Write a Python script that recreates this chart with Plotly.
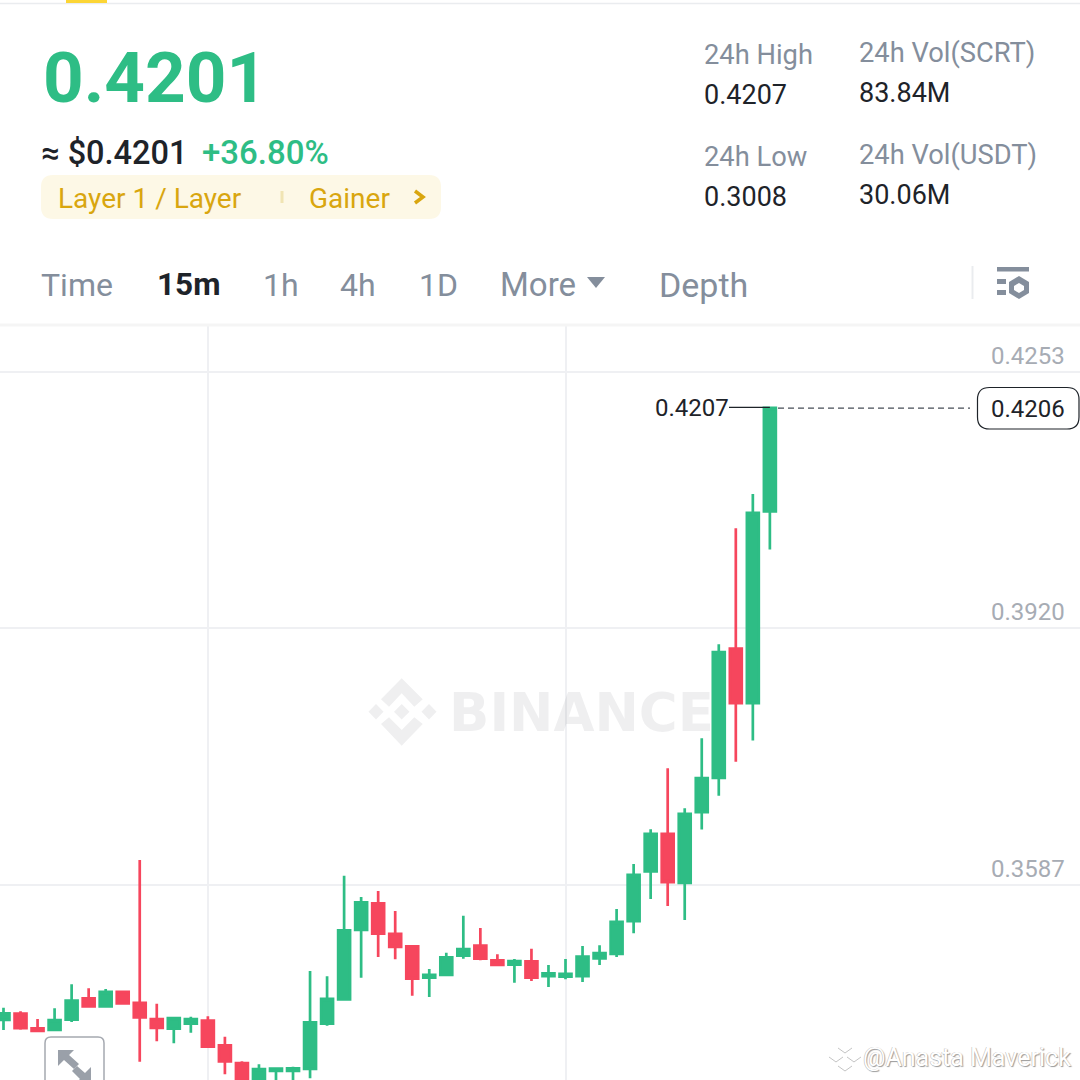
import plotly.graph_objects as go

GREEN = "#2EBD85"
RED = "#F6465D"
DARK = "#1E2329"
GRAY = "#848E9C"
GOLD = "#D9A60F"
GRID = "#EFF0F3"

# candles
candle_index = list(range(46))
open_px = [
    .34117, .34199, .34010, .33988, .34121, .34399, .34295, .34481, .34338, .34130,
    .34004, .34069, .34108, .33789, .33559, .33300, .33455, .33455, .33481, .34069,
    .34386, .35286, .35632, .35234, .35074, .34667, .34702, .34952, .35082, .34892,
    .34835, .34879, .34685, .34680, .34685, .34918, .34974, .35399, .36047, .36533,
    .35897, .36816, .37260, .38939, .38230, .40720,
]
high_px = [
    .34277, .34230, .34130, .34269, .34581, .34529, .34520, .34481, .36195, .34329,
    .34160, .34160, .34165, .33901, .33581, .33542, .33485, .33511, .34754, .34685,
    .35991, .35714, .35792, .35532, .35091, .34780, .34991, .35471, .35312, .34970,
    .34909, .35043, .34831, .34909, .35078, .35087, .35558, .36143, .36593, .37386,
    .36867, .37776, .38995, .40502, .40947, .42070,
]
low_px = [
    .33988, .33991, .33975, .33988, .34091, .34277, .34295, .34321, .33576, .33841,
    .33815, .33953, .33763, .33412, .33274, .33274, .33274, .33274, .33361, .34043,
    .34386, .34667, .34935, .34905, .34433, .34416, .34702, .34913, .34892, .34831,
    .34602, .34624, .34546, .34646, .34611, .34831, .34935, .35243, .35688, .35597,
    .35416, .36589, .37029, .37469, .37747, .40224,
]
close_px = [
    .34204, .34010, .33975, .34117, .34368, .34295, .34481, .34334, .34152, .34014,
    .34143, .34130, .33771, .33581, .33313, .33481, .33485, .33490, .34088, .34390,
    .35282, .35645, .35238, .35065, .34654, .34702, .34931, .35039, .34913, .34831,
    .34883, .34667, .34724, .34715, .34939, .34987, .35390, .36000, .36533, .35908,
    .36793, .37257, .38894, .38230, .40701, .42064,
]
price_ticks = [0.4253, 0.3920, 0.3587]
time_grid = [12, 33]
high_mark = 0.4207
last_price = 0.4206

# header texts: text, left x, centre y, size, colour, weight
header_texts = [
    ("0.4201", 41, 78, 71, GREEN, 700),
    ("≈ $0.4201", 39, 153, 32.5, DARK, 500),
    ("+36.80%", 200, 153, 33, GREEN, 500),
    ("Layer 1 / Layer", 56, 198, 28, GOLD, 400),
    ("Gainer", 307, 198, 28, GOLD, 400),
    ("Time", 39, 285, 32, GRAY, 400),
    ("15m", 155, 285, 31.5, DARK, 700),
    ("1h", 261, 285, 32, GRAY, 400),
    ("4h", 338, 285, 32, GRAY, 400),
    ("1D", 417, 285, 32, GRAY, 400),
    ("More", 498, 285, 33, GRAY, 400),
    ("Depth", 657, 285, 34, GRAY, 400),
    ("24h High", 702, 55, 27.3, GRAY, 400),
    ("0.4207", 702, 95, 27, DARK, 400),
    ("24h Low", 702, 157, 27.3, GRAY, 400),
    ("0.3008", 702, 197, 27, DARK, 400),
    ("24h Vol(SCRT)", 857, 53, 27.3, GRAY, 400),
    ("83.84M", 857, 93, 27, DARK, 400),
    ("24h Vol(USDT)", 857, 155, 27.3, GRAY, 400),
    ("30.06M", 857, 195, 27, DARK, 400),
]


def px(x):
    return x / 1080


def py(y):
    return 1 - y / 1080


def pixel_path(points, closed=True):
    # page pixels to paper coordinates for a shape path
    parts = [f"{'M' if i == 0 else 'L'} {px(x):.5f} {py(y):.5f}" for i, (x, y) in enumerate(points)]
    return " ".join(parts) + (" Z" if closed else "")


def rounded_box(x0, y0, x1, y1, r):
    x0, x1, r_x = px(x0), px(x1), px(r)
    y0, y1, r_y = py(y0), py(y1), r / 1080
    return (
        f"M {x0 + r_x:.5f} {y0:.5f} L {x1 - r_x:.5f} {y0:.5f} Q {x1:.5f} {y0:.5f} {x1:.5f} {y0 - r_y:.5f} "
        f"L {x1:.5f} {y1 + r_y:.5f} Q {x1:.5f} {y1:.5f} {x1 - r_x:.5f} {y1:.5f} "
        f"L {x0 + r_x:.5f} {y1:.5f} Q {x0:.5f} {y1:.5f} {x0:.5f} {y1 + r_y:.5f} "
        f"L {x0:.5f} {y0 - r_y:.5f} Q {x0:.5f} {y0:.5f} {x0 + r_x:.5f} {y0:.5f} Z"
    )


fig = go.Figure()

fig.add_trace(go.Candlestick(
    x=candle_index, open=open_px, high=high_px, low=low_px, close=close_px,
    increasing=dict(fillcolor=GREEN, line=dict(color=GREEN, width=2.7)),
    decreasing=dict(fillcolor=RED, line=dict(color=RED, width=2.7)),
    whiskerwidth=0, showlegend=False, hoverinfo="skip",
))

shapes = []


def add_fill(path, color, layer="above"):
    shapes.append(dict(type="path", xref="paper", yref="paper", path=path,
                       fillcolor=color, line=dict(width=0), layer=layer))


def add_line(x0, y0, x1, y1, color, width):
    shapes.append(dict(type="line", xref="paper", yref="paper",
                       x0=px(x0), y0=py(y0), x1=px(x1), y1=py(y1),
                       line=dict(color=color, width=width)))


# top strip and separators
add_line(0, 3.5, 1080, 3.5, "#EAECEF", 1.5)
add_fill(pixel_path([(66, 0), (107, 0), (107, 3), (66, 3)]), "#FCD535")
add_line(0, 325, 1080, 325, "#F5F5F5", 3)
add_line(972.5, 266, 972.5, 299, "#EAECEF", 2)

# tag pill
add_fill(rounded_box(41, 175, 441, 219, 12), "#FDF8E6")
add_line(282, 191, 282, 203, "#F0E4B3", 3)
shapes.append(dict(type="path", xref="paper", yref="paper",
                   path=pixel_path([(415, 191), (423, 197), (415, 203)], closed=False),
                   line=dict(color=GOLD, width=3.5)))

# More dropdown triangle
add_fill(pixel_path([(587, 277), (605, 277), (596, 288)]), GRAY)

# settings icon
add_fill(pixel_path([(997, 267), (1029, 267), (1029, 271.5), (997, 271.5)]), GRAY)
add_fill(pixel_path([(997, 279), (1006, 279), (1006, 284), (997, 284)]), GRAY)
add_fill(pixel_path([(997, 290), (1006, 290), (1006, 295), (997, 295)]), GRAY)
add_fill(pixel_path([(1019, 276), (1029, 282), (1029, 293), (1019, 299), (1009, 293), (1009, 282)]), GRAY)
add_fill(pixel_path([(1019, 283), (1024, 286), (1024, 290), (1019, 293), (1014, 290), (1014, 286)]), "#FFFFFF")

# watermark logo
wm = "rgba(30,35,41,0.07)"
add_fill(pixel_path([(401.7, 678.3), (422.7, 699.3), (414.3, 706.7), (401.7, 693.3), (389, 706.7), (381, 699.3)]), wm, "below")
add_fill(pixel_path([(401.7, 745.7), (422.7, 724), (414.3, 717.3), (401.7, 730), (389, 717.3), (381, 724)]), wm, "below")
add_fill(pixel_path([(401.7, 704), (409.5, 711.7), (401.7, 719.5), (394, 711.7)]), wm, "below")
add_fill(pixel_path([(376, 704), (383.5, 711.7), (376, 719.5), (368.5, 711.7)]), wm, "below")
add_fill(pixel_path([(429, 704), (436.5, 711.7), (429, 719.5), (421.5, 711.7)]), wm, "below")

# expand button
shapes.append(dict(type="path", xref="paper", yref="paper", path=rounded_box(45, 1037, 104, 1090, 6),
                   fillcolor="#FFFFFF", line=dict(color="#A5A9B0", width=1.5)))
add_fill(pixel_path([(58, 1050), (74, 1050), (69, 1055), (79, 1064), (74, 1069), (64, 1060), (58, 1066)]), "#9AA0A9")
add_fill(pixel_path([(91, 1067), (91, 1084), (75, 1084), (80, 1079), (72, 1071), (77, 1066), (85, 1073)]), "#9AA0A9")

# last price box and high marker
shapes.append(dict(type="line", xref="paper", yref="y", x0=px(778), x1=px(970),
                   y0=last_price, y1=last_price, line=dict(color="#474D57", width=1.3, dash="6px,4px")))
shapes.append(dict(type="line", xref="x", yref="y", x0=42.6, x1=45,
                   y0=high_mark, y1=high_mark, line=dict(color=DARK, width=1.2)))
shapes.append(dict(type="path", xref="paper", yref="paper", path=rounded_box(977.5, 387.5, 1079, 429, 12),
                   fillcolor="#FFFFFF", line=dict(color=DARK, width=1.2)))

# owner mark bottom right
for cx, cy in [(845, 1048), (836, 1057), (854, 1057), (845, 1066)]:
    shapes.append(dict(type="path", xref="paper", yref="paper",
                       path=pixel_path([(cx - 7, cy), (cx, cy + 5), (cx + 7, cy)], closed=False),
                       line=dict(color="#C4C4C4", width=1)))

fig.update_layout(shapes=shapes)

annotations = []


def add_text(text, x, y, size, color, weight=400, family="Roboto", anchor="left", **font_extra):
    annotations.append(dict(
        text=text,
        xref="paper", yref="paper", x=px(x), y=py(y), xanchor=anchor, yanchor="middle",
        showarrow=False, font=dict(size=size, color=color, family=family, weight=weight, **font_extra),
    ))


for text, x, y, size, color, weight in header_texts:
    add_text(text, x, y, size, color, weight)

add_text("BINANCE", 447, 712, 53, wm, 700, family="DejaVu Sans")
add_text(
    "@Anasta Maverick", 861, 1057, 25, "#FFFFFF",
    shadow="1px 1px 1px #9A9A9A, -0.5px -0.5px 0.5px #B5B5B5",
)

# y tick labels sit above their grid lines
for tick in price_ticks:
    annotations.append(dict(
        text=f"{tick:.4f}", xref="paper", yref="y", x=px(1067), y=tick,
        xanchor="right", yanchor="bottom", yshift=0, showarrow=False,
        font=dict(size=24, color="#A7ACB4", family="Roboto"),
    ))

annotations.append(dict(
    text=f"{high_mark:.4f}", xref="x", yref="y", x=42.7, y=high_mark,
    xanchor="right", yanchor="middle", yshift=-1, showarrow=False,
    font=dict(size=24, color=DARK, family="Roboto"),
))
annotations.append(dict(
    text=f"{last_price:.4f}", xref="paper", yref="y", x=px(1028), y=last_price,
    xanchor="center", yanchor="middle", yshift=-1, showarrow=False,
    font=dict(size=24, color=DARK, family="Roboto"),
))

fig.update_layout(
    annotations=annotations,
    width=1080, height=1080,
    margin=dict(l=0, r=0, t=0, b=0),
    paper_bgcolor="#FFFFFF", plot_bgcolor="#FFFFFF",
    boxgap=0.3, boxgroupgap=0,
    xaxis=dict(
        range=[-0.2055, 63.21], tickvals=time_grid, showticklabels=False, ticks="",
        gridcolor=GRID, gridwidth=2, zeroline=False, rangeslider=dict(visible=False),
    ),
    yaxis=dict(
        domain=[0, py(326)], range=[0.33338, 0.43127], tickvals=price_ticks,
        showticklabels=False, ticks="", gridcolor=GRID, gridwidth=2, zeroline=False,
    ),
)

# page margin off so the figure fills the window
fig.write_html(
    "out.html",
    config={"displayModeBar": False},
    post_script="document.body.style.margin='0';document.body.style.overflow='hidden';",
)
